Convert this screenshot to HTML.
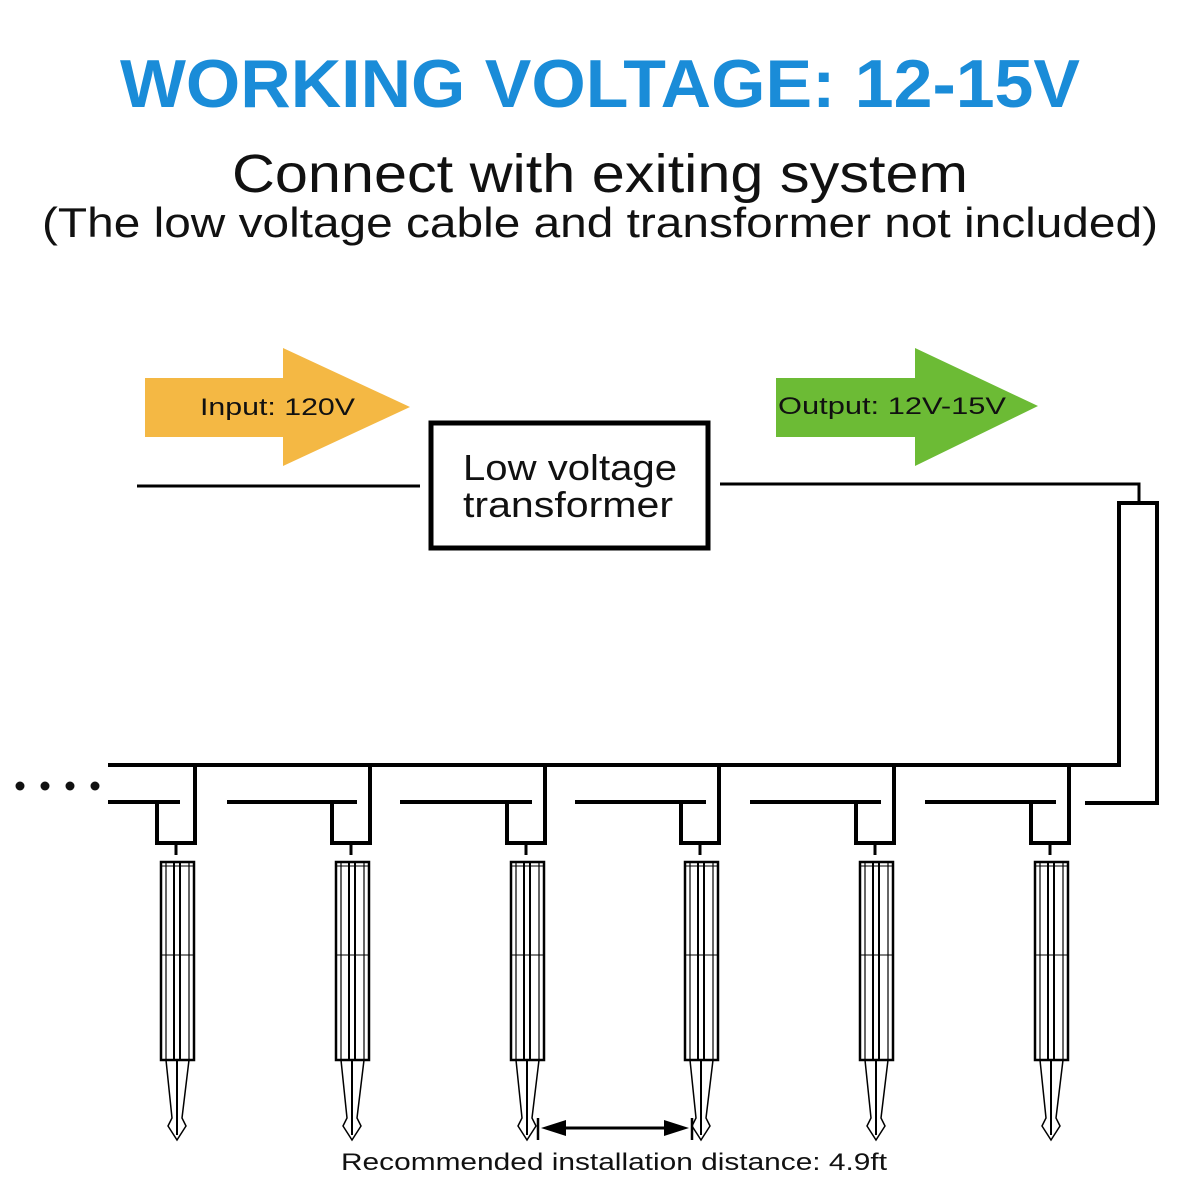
<!DOCTYPE html>
<html><head><meta charset="utf-8"><style>
html,body{margin:0;padding:0;background:#fff;}
svg{display:block;}
text{font-family:"Liberation Sans","DejaVu Sans",sans-serif;}
</style></head><body>
<svg width="1200" height="1200" viewBox="0 0 1200 1200" xmlns="http://www.w3.org/2000/svg">
<rect width="1200" height="1200" fill="#fff"/>
<text x="120" y="107" font-size="68" font-weight="bold" fill="#1a8cd8" textLength="960" lengthAdjust="spacingAndGlyphs">WORKING VOLTAGE: 12-15V</text>
<text x="232" y="192" font-size="54" fill="#111" textLength="736" lengthAdjust="spacingAndGlyphs">Connect with exiting system</text>
<text x="42" y="237" font-size="42" fill="#111" textLength="1116" lengthAdjust="spacingAndGlyphs">(The low voltage cable and transformer not included)</text>

<polygon points="145,378 283,378 283,348 410,407 283,466 283,437 145,437" fill="#f4b844"/>
<text x="200" y="415" font-size="24" fill="#111" textLength="155" lengthAdjust="spacingAndGlyphs">Input: 120V</text>
<polygon points="776,378 915,378 915,348 1038,406 915,466 915,437 776,437" fill="#6cbb35"/>
<text x="778" y="414" font-size="24" fill="#111" textLength="228" lengthAdjust="spacingAndGlyphs">Output: 12V-15V</text>

<g stroke="#000" fill="none">
<rect x="431" y="423" width="277" height="125" stroke-width="5"/>
<line x1="137" y1="486" x2="420" y2="486" stroke-width="3"/>
<polyline points="720,484 1139,484 1139,503" stroke-width="3"/>
<polyline points="108,765 1119,765 1119,503 1157,503 1157,803 1085,803" stroke-width="4"/>
</g>
<text x="463" y="480" font-size="36" fill="#111" textLength="214" lengthAdjust="spacingAndGlyphs">Low voltage</text>
<text x="463" y="517" font-size="36" fill="#111" textLength="210" lengthAdjust="spacingAndGlyphs">transformer</text>

<g fill="#111"><circle cx="20" cy="786" r="4.5"/><circle cx="45" cy="786" r="4.5"/><circle cx="70" cy="786" r="4.5"/><circle cx="95" cy="786" r="4.5"/></g>

<g stroke="#000" fill="none">
<g stroke-width="4">
<line x1="108" y1="802" x2="180" y2="802"/>
<line x1="227" y1="802" x2="357" y2="802"/>
<line x1="400" y1="802" x2="532" y2="802"/>
<line x1="575" y1="802" x2="706" y2="802"/>
<line x1="750" y1="802" x2="881" y2="802"/>
<line x1="925" y1="802" x2="1056" y2="802"/>
</g>
</g>

<g id="u" stroke="#000" fill="none">
<polyline points="195,765 195,843 157,843 157,802" stroke-width="4"/>
<line x1="176" y1="843" x2="176" y2="855" stroke-width="3"/>
<rect x="161" y="862" width="33" height="198" stroke-width="2.5"/>
<line x1="166" y1="862" x2="166" y2="1060" stroke-width="1.2"/>
<line x1="174" y1="862" x2="174" y2="1060" stroke-width="2"/>
<line x1="180" y1="862" x2="180" y2="1060" stroke-width="2"/>
<line x1="189" y1="862" x2="189" y2="1060" stroke-width="1.2"/>
<line x1="161" y1="955" x2="194" y2="955" stroke-width="1"/>
<line x1="161" y1="866" x2="194" y2="866" stroke-width="1"/>
<path d="M166,1060 L172,1118 L168,1126 L177,1140 L186,1126 L182,1118 L189,1060" stroke-width="1.5"/>
<line x1="177" y1="1060" x2="177" y2="1135" stroke-width="2"/>
</g>
<use href="#u" x="175"/>
<use href="#u" x="350"/>
<use href="#u" x="524"/>
<use href="#u" x="699"/>
<use href="#u" x="874"/>

<g stroke="#000" fill="#000">
<line x1="538" y1="1118" x2="538" y2="1140" stroke-width="2.5"/>
<line x1="692" y1="1118" x2="692" y2="1140" stroke-width="2.5"/>
<line x1="555" y1="1128" x2="675" y2="1128" stroke-width="3"/>
<polygon points="541,1128 566,1120 566,1136" stroke="none"/>
<polygon points="689,1128 664,1120 664,1136" stroke="none"/>
</g>
<text x="341" y="1170" font-size="24" fill="#111" textLength="546" lengthAdjust="spacingAndGlyphs">Recommended installation distance: 4.9ft</text>
</svg>
</body></html>
